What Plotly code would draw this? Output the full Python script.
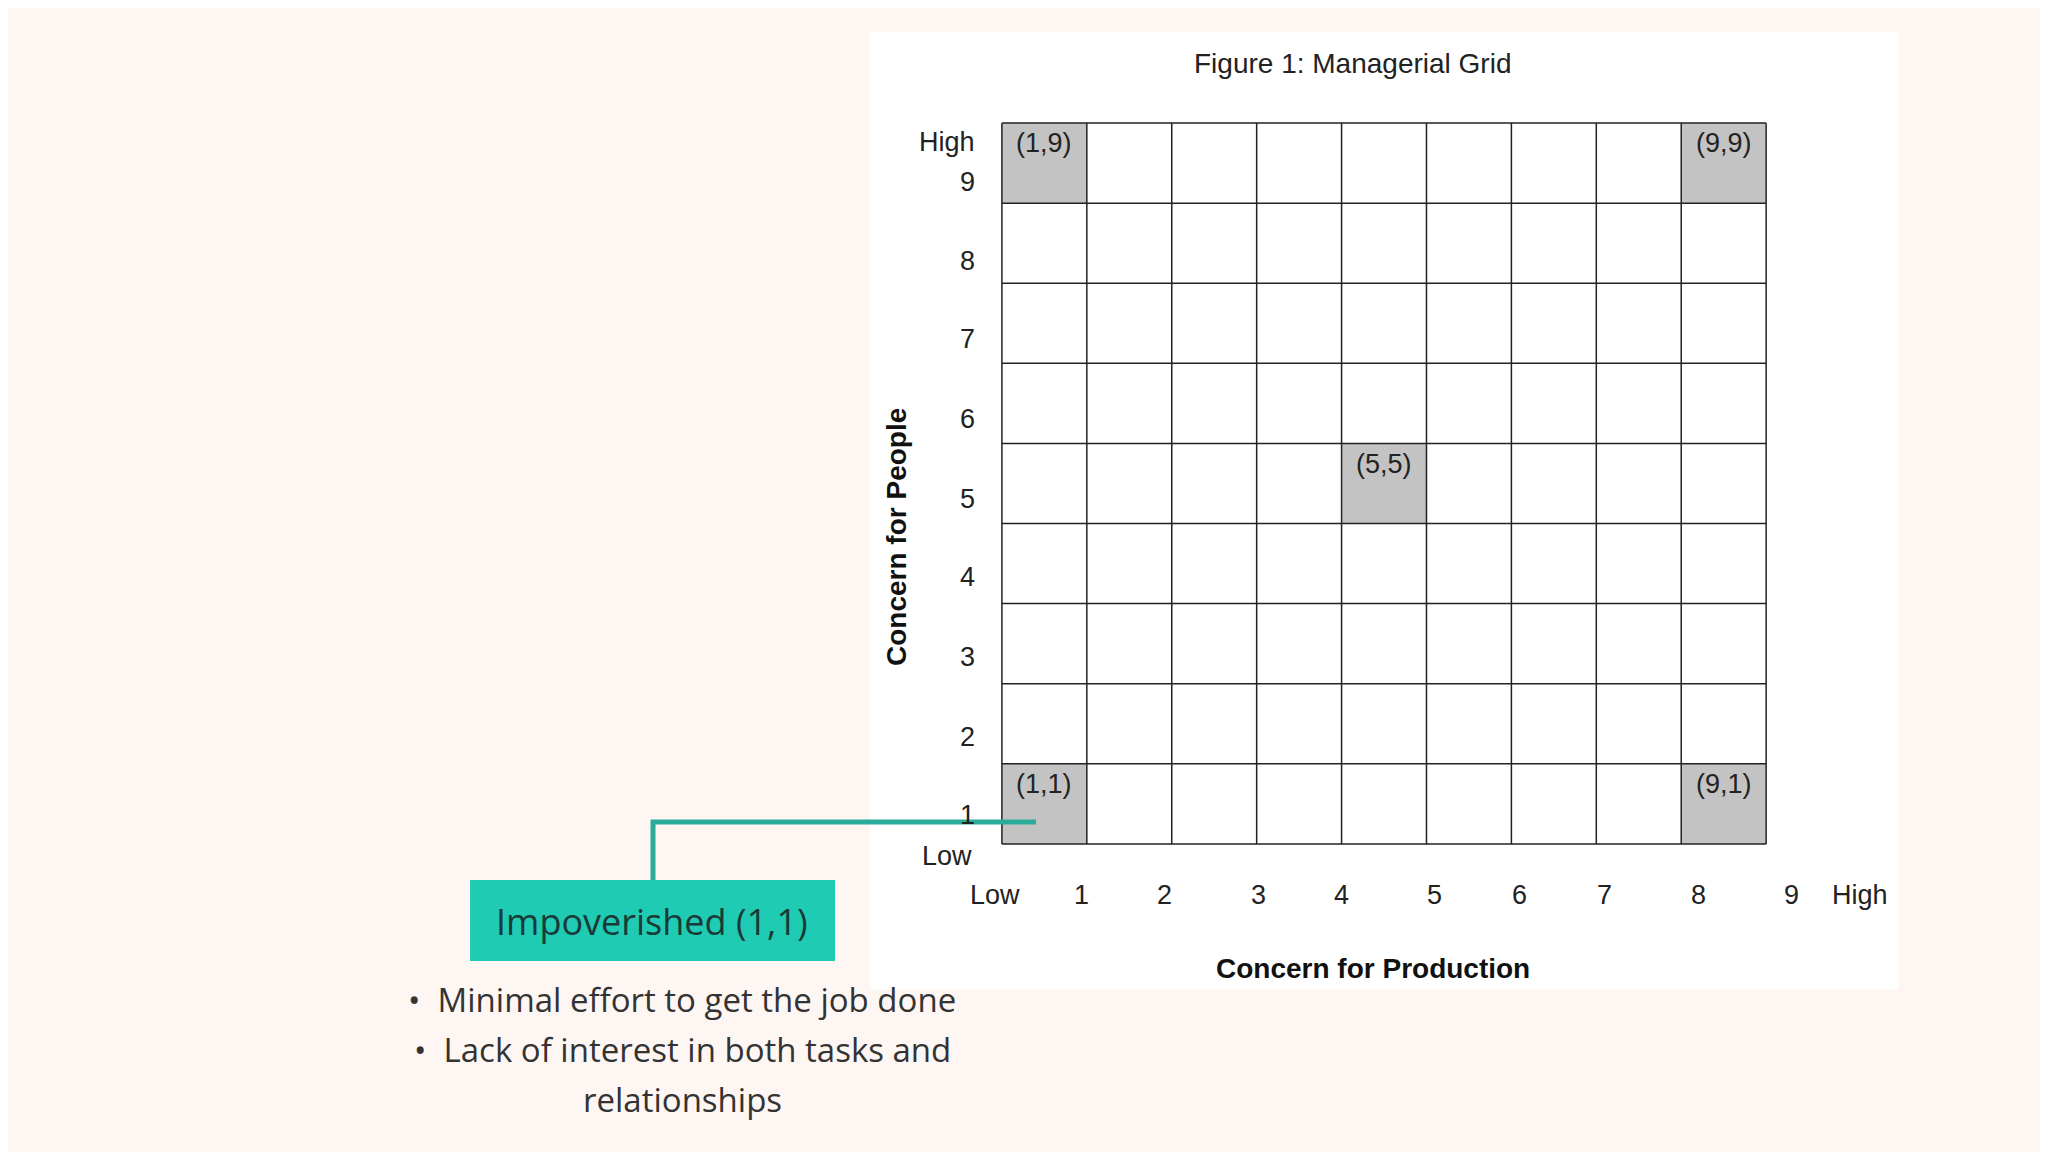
import plotly.graph_objects as go

# Data
cols = list(range(1, 10))
rows = list(range(1, 10))
highlight = [(1, 9), (9, 9), (5, 5), (1, 1), (9, 1)]
x_tick_labels = ["Low", "1", "2", "3", "4", "5", "6", "7", "8", "9", "High"]
x_tick_pos = [-0.08, 0.94, 1.92, 3.02, 4.0, 5.1, 6.1, 7.1, 8.2, 9.3, 10.1]
y_tick_labels = ["Low", "1", "2", "3", "4", "5", "6", "7", "8", "9", "High"]
y_tick_pos = [-0.15, 0.36, 1.34, 2.33, 3.33, 4.3, 5.3, 6.3, 7.28, 8.27, 8.76]
bullets = ["•  Minimal effort to get the job done",
           "•  Lack of interest in both tasks and",
           "relationships"]

z = [[1 if (c, r) in highlight else 0 for c in cols] for r in rows]
FONT = "Liberation Sans, Arial, sans-serif"

fig = go.Figure()
fig.add_trace(go.Heatmap(
    x=[c - 0.5 for c in cols], y=[r - 0.5 for r in rows], z=z,
    colorscale=[[0, "#ffffff"], [1, "#c3c3c3"]], showscale=False, hoverinfo="skip"))

shapes = [dict(type="rect", xref="paper", yref="paper", x0=0.421, x1=0.923, y0=0.148, y1=0.979,
               fillcolor="white", line_width=0, layer="below")]
for i in range(10):
    shapes.append(dict(type="line", xref="x", yref="y", x0=i, x1=i, y0=0, y1=9, line=dict(color="#222", width=1.5)))
    shapes.append(dict(type="line", xref="x", yref="y", x0=0, x1=9, y0=i, y1=i, line=dict(color="#222", width=1.5)))
shapes.append(dict(type="path", xref="paper", yref="paper",
                   path=f"M {645/2048} {1-872/1152} L {645/2048} {1-814/1152} L {1028/2048} {1-814/1152}",
                   line=dict(color="#2aab9b", width=5)))
shapes.append(dict(type="rect", xref="paper", yref="paper", x0=462/2048, x1=827/2048,
                   y0=1-953/1152, y1=1-872/1152, fillcolor="#1fcbb3", line_width=0))

ann = []
for c, r in highlight:
    ann.append(dict(x=c - 0.5, y=r - 0.04, xref="x", yref="y", text=f"({c},{r})", showarrow=False,
                    xanchor="center", yanchor="top", font=dict(size=27, color="#222", family=FONT)))
for t, p in zip(x_tick_labels, x_tick_pos):
    ann.append(dict(x=p, y=-0.64, xref="x", yref="y", text=t, showarrow=False, xanchor="center",
                    font=dict(size=27, color="#222", family=FONT)))
for t, p in zip(y_tick_labels, y_tick_pos):
    xp = -0.4 if t not in ("High", "Low") else -0.65
    ann.append(dict(x=xp, y=p, xref="x", yref="y", text=t, showarrow=False, xanchor="center",
                    font=dict(size=27, color="#222", family=FONT)))
def pa(x, y, text, size, color, family, angle=0):
    ann.append(dict(x=x/2048, y=1-y/1152, xref="paper", yref="paper", text=text, showarrow=False,
                    xanchor="center", yanchor="middle", textangle=angle,
                    font=dict(size=size, color=color, family=family)))
pa(1344, 55, "Figure 1: Managerial Grid", 28, "#222", FONT)
pa(1365, 960, "<b>Concern for Production</b>", 28, "#111", FONT)
pa(888, 529, "<b>Concern for People</b>", 28, "#111", FONT, -90)
pa(644, 913, "Impoverished (1,1)", 36, "#1a3a38", "Open Sans")
for i, b in enumerate(bullets):
    pa(674, 991 + 50*i, b, 33, "#333", "Open Sans")

fig.update_layout(
    width=2048, height=1152, margin=dict(l=0, r=0, t=0, b=0),
    paper_bgcolor="#fdf6f3", plot_bgcolor="rgba(0,0,0,0)",
    xaxis=dict(domain=[909/2048, 1894/2048], range=[-1, 10.6], visible=False, fixedrange=True),
    yaxis=dict(domain=[1-916/1152, 1-83/1152], range=[-1, 9.4], visible=False, fixedrange=True),
    shapes=shapes, annotations=ann, showlegend=False)
fig.write_html("out.html")
